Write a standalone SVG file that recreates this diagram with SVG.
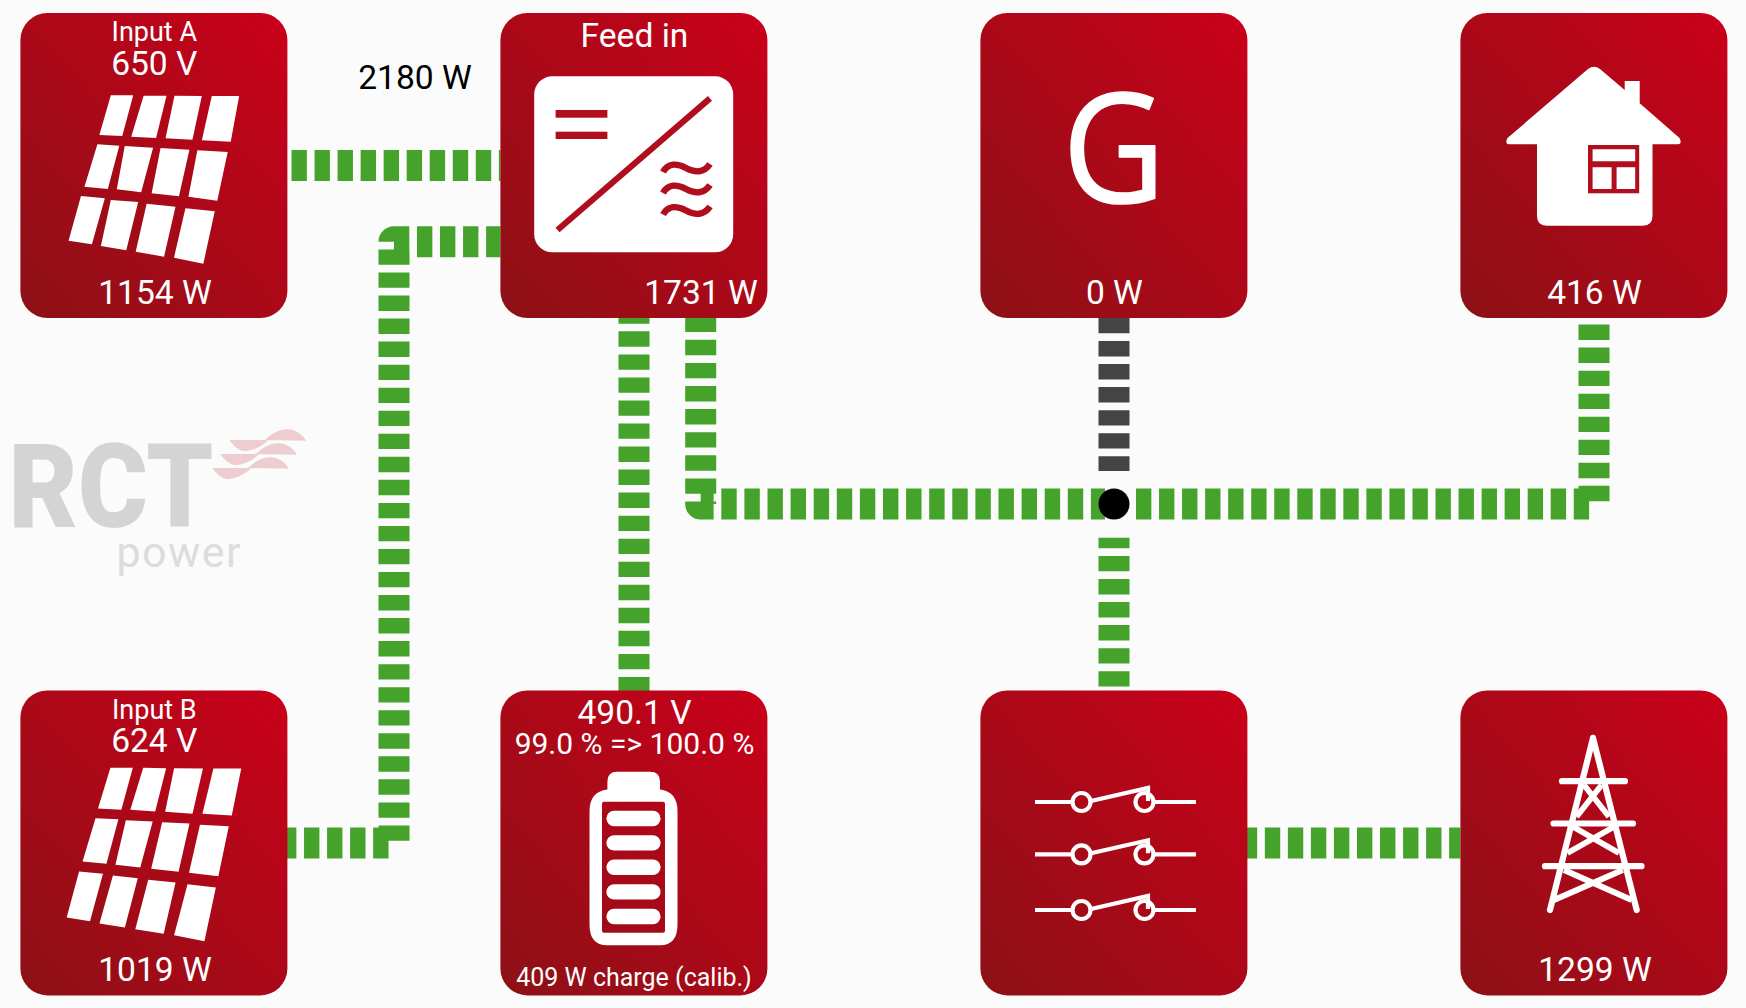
<svg xmlns="http://www.w3.org/2000/svg" xmlns:xlink="http://www.w3.org/1999/xlink" width="1746" height="1008" viewBox="0 0 1746 1008">
<style>
.t{font-family:Roboto,"Liberation Sans",sans-serif;fill:#fff;text-anchor:middle}
.s34{font-size:33.6px}.s28{font-size:27px}
.card{fill:url(#g)}
.c{fill:none;stroke:#45a32b;stroke-width:31;stroke-dasharray:15.36 7.68;stroke-linejoin:round}
.sw{fill:none;stroke:#fff;stroke-width:4.2}
.tw{fill:none;stroke:#fff;stroke-width:6.2;stroke-linecap:round}
.tx{fill:none;stroke:#fff;stroke-width:5.8}
.i{fill:#b00e1d}
.il{fill:none;stroke:#b00e1d}
</style>
<defs>
<linearGradient id="g" x1="0" y1="1" x2="1" y2="0"><stop offset="0" stop-color="#8c1116"/><stop offset="1" stop-color="#ca001a"/></linearGradient>
<path id="wave" d="M229.3 440H268C262 447 251 451 245 451C238 451 233 445 229.3 440ZM265 440C272 433 280 429.3 287 429.3C295 429.3 302 434 306 440.7Z" fill="#eecdd0"/>
<g id="sw"><path class="sw" d="M1035 0H1072M1155 0H1196M1091 -1L1148 -14V-1"/><circle class="sw" cx="1081.5" cy="0" r="9"/><circle class="sw" cx="1144.5" cy="0" r="9"/></g>
<path id="tilde" d="M663 172C668 163 677 163 686 168C695 173 704 173 710 164" fill="none" stroke="#b00e1d" stroke-width="6.5"/>
</defs>
<rect width="1746" height="1008" fill="#fbfbfb"/>
<g id="logo">
<text x="8.5" y="527.3" font-family="Roboto,'Liberation Sans',sans-serif" font-weight="900" font-size="116" fill="#d4d4d4" textLength="205" lengthAdjust="spacingAndGlyphs">RCT</text>
<text x="116.5" y="566.7" font-family="Roboto,'Liberation Sans',sans-serif" font-weight="400" font-size="43" letter-spacing="1.4" fill="#dcdcdc">power</text>
<use href="#wave"/><use href="#wave" transform="translate(-9 14)"/><use href="#wave" transform="translate(-17 28)"/>
</g>
<g id="connectors">
<path class="c" d="M291.5 165.5H500.5"/>
<path class="c" d="M281 843H394V241.7H500.5"/>
<path class="c" d="M634 308.3V691"/>
<path class="c" style="stroke-dasharray:15.4 7.7" d="M700.7 316.7V504H1105"/>
<path class="c" d="M1136 504H1594V324.6"/>
<path class="c" style="stroke:#444" d="M1114 318V471"/>
<path class="c" style="stroke-dashoffset:4.76" d="M1114 537.7V686.4"/>
<path class="c" d="M1241.8 843H1460.4"/>
</g>
<circle id="junction" cx="1114" cy="504" r="15.5" fill="#000"/>
<text id="total" class="t s34" style="fill:#000" x="415" y="88.7">2180 W</text>

<g id="input-a">
<rect class="card" x="20.4" y="13" width="267" height="305" rx="27"/>
<g transform="translate(.4 0) scale(.4974 .3333)" fill="#fff">
<path d="M222 286L267 286L245 408L199 405ZM288 287L334 287L313 414L263 410ZM350 287L405 288L386 419L332 415ZM425 288L480 288L463 425L405 421ZM195 433L239 437L216 567L169 560ZM250 438L307 443L283 577L234 568ZM322 444L380 449L359 589L304 580ZM396 451L457 456L436 602L378 590ZM162 588L210 595L184 733L137 722ZM222 600L277 606L253 751L202 738ZM294 611L352 620L329 770L272 755ZM372 625L431 634L408 791L349 773Z"/>
</g>
<text class="t s28" x="154.3" y="40.7">Input A</text>
<text class="t s34" x="154.3" y="75">650 V</text>
<text class="t s34" x="155" y="303.7">1154 W</text>
</g>

<g id="inverter">
<rect class="card" x="500.4" y="13" width="267" height="305" rx="27"/>
<rect x="534.2" y="76.3" width="199" height="176" rx="18" fill="#fff"/>
<rect class="i" x="555.6" y="110" width="51.8" height="7.7"/>
<rect class="i" x="555.6" y="131.7" width="51.8" height="7.3"/>
<path class="il" stroke-width="6.2" d="M710 98.3L557.5 230"/>
<use href="#tilde"/><use href="#tilde" y="21"/><use href="#tilde" y="42.5"/>
<text class="t s34" x="634.5" y="47">Feed in</text>
<text class="t s34" x="701" y="303.7">1731 W</text>
</g>

<g id="grid">
<rect class="card" x="980.4" y="13" width="267" height="305" rx="27"/>
<text transform="translate(1114 203) scale(.93 1)" font-family="'Open Sans',sans-serif" font-size="152" fill="#fff" stroke="#fff" stroke-width="1.6" stroke-linejoin="round" text-anchor="middle">G</text>
<text class="t s34" x="1114.4" y="303.7">0 W</text>
</g>

<g id="house">
<rect class="card" x="1460.4" y="13" width="267" height="305" rx="27"/>
<path fill="#fff" d="M1588 69Q1594 64.5 1600 69L1624.7 90V81H1639.7V103.3L1679.5 138Q1682.5 144 1678 144.3H1652.5V216Q1652.5 225.7 1643 225.7H1546.5Q1537 225.7 1537 216V144.3H1509Q1504.5 144 1507.5 138Z"/>
<rect class="i" x="1588" y="145" width="51.2" height="48.3"/>
<path fill="#fff" d="M1592.6 149.3H1635.2V161.3H1592.6ZM1592.6 167.3H1611.6V189H1592.6ZM1616.6 167.3H1635.2V189H1616.6Z"/>
<text class="t s34" x="1594.5" y="303.7">416 W</text>
</g>

<g id="input-b">
<rect class="card" x="20.4" y="690.4" width="267" height="305" rx="27"/>
<g transform="translate(0 679.5) scale(.4974 .3333)" fill="#fff">
<path d="M222 265L267 265L244 391L197 387ZM288 265L334 266L312 396L262 391ZM350 266L408 267L387 403L332 397ZM429 267L485 267L466 408L407 403ZM192 416L238 419L214 553L166 546ZM253 422L307 426L282 564L232 556ZM326 428L381 432L359 577L304 568ZM402 436L460 440L439 590L380 580ZM159 576L207 583L181 725L134 714ZM227 588L277 596L251 744L200 732ZM298 601L353 609L329 763L272 749ZM377 614L434 624L411 785L350 767Z"/>
</g>
<text class="t s28" x="154.3" y="718.7">Input B</text>
<text class="t s34" x="154.3" y="752">624 V</text>
<text class="t s34" x="155" y="981">1019 W</text>
</g>

<g id="battery">
<rect class="card" x="500.4" y="690.4" width="267" height="305" rx="27"/>
<path fill="#fff" fill-rule="evenodd" d="M607.4 789.5V781.5Q607.4 771.8 617 771.8H650Q660 771.8 660 781.5V789.5Q677.5 791.5 677.5 811.5V924.5Q677.5 945.2 660 945.2H607Q589.5 945.2 589.5 924.5V811.5Q589.5 791.5 607.4 789.5ZM604 801.8Q602 801.8 602 803.8V930.8Q602 932.8 604 932.8H663Q665 932.8 665 930.8V803.8Q665 801.8 663 801.8Z"/>
<g fill="#fff">
<rect x="606.4" y="810.8" width="54.2" height="15.4" rx="7.7"/>
<rect x="606.4" y="835.2" width="54.2" height="15.4" rx="7.7"/>
<rect x="606.4" y="859.5" width="54.2" height="15.4" rx="7.7"/>
<rect x="606.4" y="884.2" width="54.2" height="15.4" rx="7.7"/>
<rect x="606.4" y="908.8" width="54.2" height="15.4" rx="7.7"/>
</g>
<text class="t s34" x="634.5" y="724">490.1 V</text>
<text class="t" font-size="30" x="634.5" y="754">99.0 % =&gt; 100.0 %</text>
<text class="t" font-size="25" x="634" y="985.5">409 W charge (calib.)</text>
</g>

<g id="switch">
<rect class="card" x="980.4" y="690.4" width="267" height="305" rx="27"/>
<use href="#sw" y="802"/><use href="#sw" y="854.3"/><use href="#sw" y="910"/>
</g>

<g id="tower">
<rect class="card" x="1460.4" y="690.4" width="267" height="305" rx="27"/>
<path class="tw" d="M1593 738L1550 910M1593 738L1636.7 910M1562 781.2H1625M1553.5 823.5H1633M1545 866.2H1641.5"/>
<path class="tx" d="M1584 785L1609 816.7M1601.6 785L1576.5 816.7M1573 826.7L1619 853M1614 826.7L1567.5 853M1564 870L1631.7 900M1622.7 870L1554 900"/>
<text class="t s34" x="1595" y="981">1299 W</text>
</g>
</svg>
